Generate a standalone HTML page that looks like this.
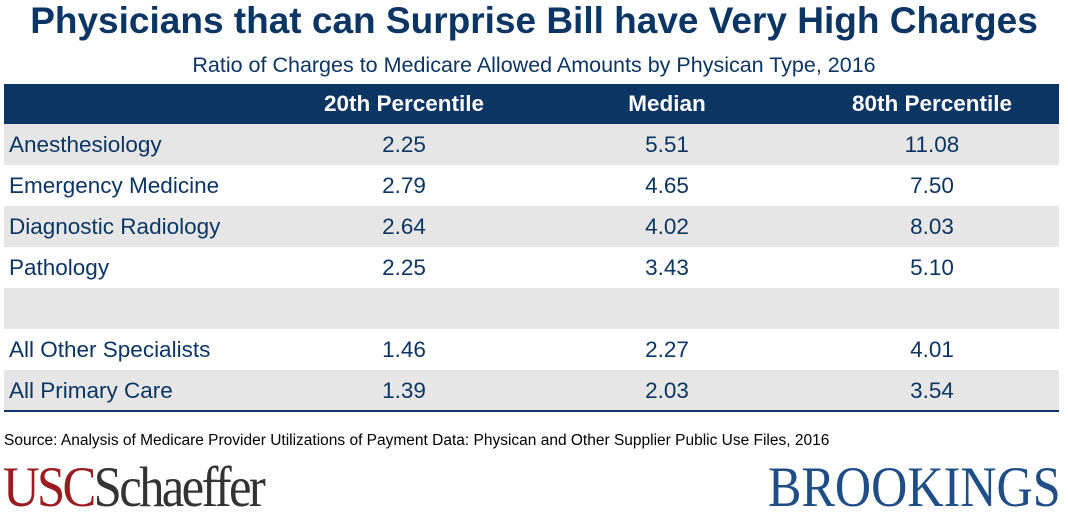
<!DOCTYPE html>
<html><head><meta charset="utf-8"><style>
body{margin:0;width:1068px;height:516px;background:#fff;position:relative;overflow:hidden;font-family:"Liberation Sans",sans-serif;color:#0b3563}
.a{position:absolute;white-space:nowrap}
.row{position:absolute;left:4px;width:1055px;height:41px}
.g{background:#e6e6e6}
.c{position:absolute;font-size:22.5px;line-height:41px;color:#0b3563;white-space:nowrap}
.l{left:5px}
.n1{left:330px;width:140px;text-align:center}
.n2{left:593px;width:140px;text-align:center}
.n3{left:843px;width:170px;text-align:center}
</style></head><body>
<div class="a" style="left:0;width:1068px;text-align:center;top:0px;font-size:37px;font-weight:bold;color:#0b3563">Physicians that can Surprise Bill have Very High Charges</div>
<div class="a" style="left:0;width:1068px;text-align:center;top:53px;font-size:21.5px;color:#0b3563">Ratio of Charges to Medicare Allowed Amounts by Physican Type, 2016</div>
<div class="row" style="top:84px;background:#0b3563;height:40px">
<div class="c n1" style="color:#fff;font-weight:bold;line-height:40px;left:310px;width:180px">20th Percentile</div>
<div class="c n2" style="color:#fff;font-weight:bold;line-height:40px">Median</div>
<div class="c n3" style="color:#fff;font-weight:bold;line-height:40px;left:828px;width:200px">80th Percentile</div>
</div>
<div class="row g" style="top:124px"><div class="c l">Anesthesiology</div><div class="c n1">2.25</div><div class="c n2">5.51</div><div class="c n3">11.08</div></div>
<div class="row" style="top:165px"><div class="c l">Emergency Medicine</div><div class="c n1">2.79</div><div class="c n2">4.65</div><div class="c n3">7.50</div></div>
<div class="row g" style="top:206px"><div class="c l">Diagnostic Radiology</div><div class="c n1">2.64</div><div class="c n2">4.02</div><div class="c n3">8.03</div></div>
<div class="row" style="top:247px"><div class="c l">Pathology</div><div class="c n1">2.25</div><div class="c n2">3.43</div><div class="c n3">5.10</div></div>
<div class="row g" style="top:288px"></div>
<div class="row" style="top:329px"><div class="c l">All Other Specialists</div><div class="c n1">1.46</div><div class="c n2">2.27</div><div class="c n3">4.01</div></div>
<div class="row g" style="top:370px"><div class="c l">All Primary Care</div><div class="c n1">1.39</div><div class="c n2">2.03</div><div class="c n3">3.54</div></div>
<div class="a" style="left:4px;width:1055px;top:410px;height:2px;background:#0b3563"></div>
<div class="a" style="left:4px;top:432px;font-size:15.5px;color:#000">Source: Analysis of Medicare Provider Utilizations of Payment Data: Physican and Other Supplier Public Use Files, 2016</div>
<div class="a" style="left:3px;top:455px;font-family:'Liberation Serif',serif;font-size:57px;letter-spacing:-3px;transform:scaleX(0.89);transform-origin:left"><span style="color:#9b1c20">USC</span><span style="color:#333">Schaeffer</span></div>
<div class="a" style="left:768px;top:455px;font-family:'Liberation Serif',serif;font-size:57px;color:#1f4e86;transform:scaleX(0.88);transform-origin:left">BROOKINGS</div>
</body></html>
